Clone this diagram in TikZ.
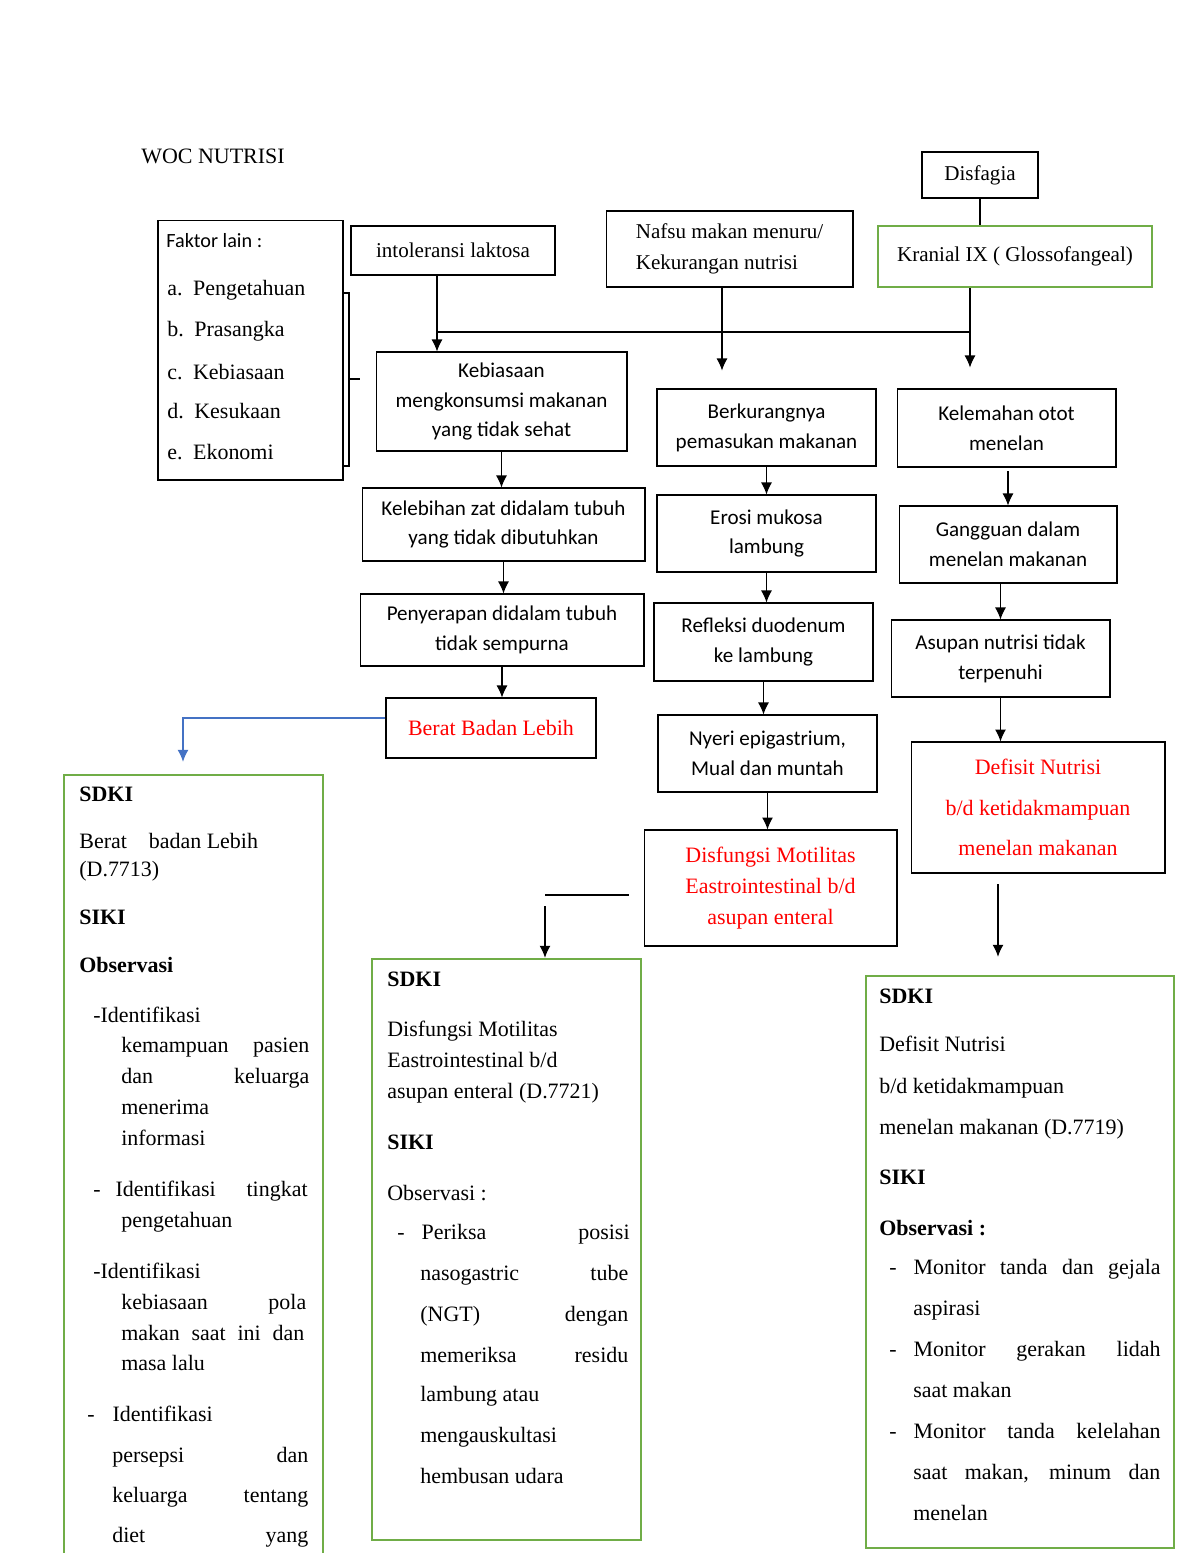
\documentclass[tikz,border=0pt]{standalone}
\usepackage{fontspec}
\setmainfont{Liberation Serif}
\newfontfamily\calfont{Carlito}
\usetikzlibrary{arrows.meta}
\definecolor{wgreen}{RGB}{112,173,71}
\definecolor{wblue}{RGB}{68,114,196}
\newcommand{\jus}[2]{\makebox[#1][s]{#2}}
\begin{document}
\begin{tikzpicture}[x=0.02cm,y=-0.02cm,
    box/.style={draw,line width=0.6pt,inner sep=2pt,align=center,
      font=\calfont\fontsize{12}{17}\selectfont},
    sbox/.style={box,font=\fontsize{12}{17.6}\selectfont},
    rbox/.style={box,text=red,font=\fontsize{12.5}{17.6}\selectfont},
    gbox/.style={draw=wgreen,line width=1.5pt},
    txt/.style={anchor=north west,inner sep=0pt,align=left,
      font=\fontsize{12.5}{17.6}\selectfont},
    arr/.style={line width=0.6pt,-{Latex[length=2.4mm,width=2.2mm]}}]
  \clip (0,0) rectangle (1200,1553);

  % top
  \node[anchor=west,inner sep=0pt,font=\fontsize{12.5}{15}\selectfont] (title) at (141,156) {WOC NUTRISI};
  \node[sbox,minimum width=2.32cm,minimum height=0.92cm] (disf) at (980,175) {Disfagia};
  \node[sbox,gbox,minimum width=5.48cm,minimum height=1.22cm] (kran) at (1015,256.5) {Kranial IX ( Glossofangeal)};
  \node[sbox,align=left,minimum width=4.94cm,minimum height=1.52cm] (nafsu) at (729.5,249) {Nafsu makan menuru/\\Kekurangan nutrisi};
  \node[sbox,minimum width=4.08cm,minimum height=0.98cm] (intol) at (453,250.5) {intoleransi laktosa};
  \node[box,minimum width=3.7cm,minimum height=5.2cm] (faktor) at (250.5,350) {};
  \node[txt,anchor=west,font=\calfont\fontsize{11.5}{15}\selectfont] (fjudul) at (166,241) {Faktor lain :};
  \node[txt,anchor=west] (fa) at (167,290) {a.\hspace{6pt}Pengetahuan};
  \node[txt,anchor=west] (fb) at (167,331) {b.\hspace{6pt}Prasangka};
  \node[txt,anchor=west] (fc) at (167,372) {c.\hspace{6pt}Kebiasaan};
  \node[txt,anchor=west] (fd) at (167,411) {d.\hspace{6pt}Kesukaan};
  \node[txt,anchor=west] (fe) at (167,452) {e.\hspace{6pt}Ekonomi};
  \draw[line width=0.6pt] (342,293) -- (349,293) -- (349,466) -- (342,466);
  \draw[line width=0.6pt] (349,379) -- (360,379);

  % column 1
  \node[box,minimum width=5.02cm,minimum height=1.98cm] (keb) at (501.5,401.5) {Kebiasaan\\mengkonsumsi makanan\\yang tidak sehat};
  \node[box,minimum width=5.66cm,minimum height=1.46cm] (keleb) at (503.5,524.5) {Kelebihan zat didalam tubuh\\yang tidak dibutuhkan};
  \node[box,minimum width=5.68cm,minimum height=1.44cm] (peny) at (502,630) {Penyerapan didalam tubuh\\tidak sempurna};
  \node[rbox,minimum width=4.2cm,minimum height=1.2cm] (bbl) at (491,728) {Berat Badan Lebih};

  % column 2
  \node[box,minimum width=4.38cm,minimum height=1.54cm] (berk) at (766.5,427.5) {Berkurangnya\\pemasukan makanan};
  \node[box,minimum width=4.38cm,minimum height=1.54cm] (erosi) at (766.5,533.5) {Erosi mukosa\\lambung};
  \node[box,minimum width=4.38cm,minimum height=1.56cm] (refl) at (763.5,642) {Refleksi duodenum\\ke lambung};
  \node[box,minimum width=4.38cm,minimum height=1.54cm] (nyeri) at (767.5,753.5) {Nyeri epigastrium,\\Mual dan muntah};
  \node[rbox,minimum width=5.06cm,minimum height=2.32cm] (disfu) at (770.5,888) {Disfungsi Motilitas\\Eastrointestinal b/d\\asupan enteral};

  % column 3
  \node[box,minimum width=4.38cm,minimum height=1.56cm] (kelem) at (1006.5,428) {Kelemahan otot\\menelan};
  \node[box,minimum width=4.36cm,minimum height=1.54cm] (gang) at (1008,544.5) {Gangguan dalam\\menelan makanan};
  \node[box,minimum width=4.38cm,minimum height=1.54cm] (asup) at (1000.5,658.5) {Asupan nutrisi tidak\\terpenuhi};
  \node[rbox,font=\fontsize{12.5}{23}\selectfont,minimum width=5.08cm,minimum height=2.62cm] (def) at (1038,807.5) {Defisit Nutrisi\\b/d ketidakmampuan\\menelan makanan};

  % SDKI boxes
  \node[gbox,minimum width=5.18cm,minimum height=16.5cm] (sdkil) at (193.5,1187.5) {};
  \node[gbox,minimum width=5.38cm,minimum height=11.62cm] (sdkim) at (506.5,1249.5) {};
  \node[gbox,minimum width=6.16cm,minimum height=11.44cm] (sdkir) at (1020,1262) {};

  \node[txt] (isil) at (79,787) {\textbf{SDKI}\\[9pt]
    Berat\quad badan Lebih\\[-1.7pt]
    (D.7713)\\[9.6pt]
    \textbf{SIKI}\\[9.6pt]
    \textbf{Observasi}\\[10.8pt]
    \hspace*{0.28cm}-Identifikasi\\
    \hspace*{0.84cm}\jus{3.76cm}{kemampuan pasien}\\
    \hspace*{0.84cm}\jus{3.76cm}{dan keluarga}\\
    \hspace*{0.84cm}menerima\\
    \hspace*{0.84cm}informasi\\[11.3pt]
    \hspace*{0.28cm}-\hspace*{0.3cm}\jus{3.84cm}{Identifikasi tingkat}\\
    \hspace*{0.84cm}pengetahuan\\[11.3pt]
    \hspace*{0.28cm}-Identifikasi\\
    \hspace*{0.84cm}\jus{3.7cm}{kebiasaan pola}\\
    \hspace*{0.84cm}\jus{3.66cm}{makan saat ini dan}\\
    \hspace*{0.84cm}masa lalu\\[11.3pt]
    \hspace*{0.16cm}-\hspace*{0.36cm}Identifikasi\\[5.7pt]
    \hspace*{0.66cm}\jus{3.92cm}{persepsi dan}\\[5.1pt]
    \hspace*{0.66cm}\jus{3.92cm}{keluarga tentang}\\[5.1pt]
    \hspace*{0.66cm}\jus{3.92cm}{diet yang}};

  \node[txt] (isim) at (387,972) {\textbf{SDKI}\\[10.8pt]
    Disfungsi Motilitas\\
    Eastrointestinal b/d\\
    asupan enteral (D.7721)\\[11.3pt]
    \textbf{SIKI}\\[11.3pt]
    Observasi :\\[5pt]
    \hspace*{0.2cm}-\hspace*{0.34cm}\jus{4.16cm}{Periksa posisi}\\[5.7pt]
    \hspace*{0.66cm}\jus{4.16cm}{nasogastric tube}\\[5.7pt]
    \hspace*{0.66cm}\jus{4.16cm}{(NGT) dengan}\\[5.7pt]
    \hspace*{0.66cm}\jus{4.16cm}{memeriksa residu}\\[4.5pt]
    \hspace*{0.66cm}lambung atau\\[5.7pt]
    \hspace*{0.66cm}mengauskultasi\\[5.7pt]
    \hspace*{0.66cm}hembusan udara};

  \node[txt] (isir) at (879,989) {\textbf{SDKI}\\[9.6pt]
    Defisit Nutrisi\\[6.2pt]
    b/d ketidakmampuan\\[5.7pt]
    menelan makanan (D.7719)\\[10.8pt]
    \textbf{SIKI}\\[11.3pt]
    \textbf{Observasi :}\\[5pt]
    \hspace*{0.2cm}-\hspace*{0.34cm}\jus{4.94cm}{Monitor tanda dan gejala}\\[5.7pt]
    \hspace*{0.68cm}aspirasi\\[5.7pt]
    \hspace*{0.2cm}-\hspace*{0.34cm}\jus{4.94cm}{Monitor gerakan lidah}\\[5.7pt]
    \hspace*{0.68cm}saat makan\\[5.7pt]
    \hspace*{0.2cm}-\hspace*{0.34cm}\jus{4.94cm}{Monitor tanda kelelahan}\\[5.7pt]
    \hspace*{0.68cm}\jus{4.94cm}{saat makan, minum dan}\\[5.7pt]
    \hspace*{0.68cm}menelan};

  % connectors
  \coordinate (jl) at (437,332);
  \coordinate (jm) at (722,332);
  \coordinate (jr) at (970,332);
  \draw[line width=0.6pt] (disf) -- (disf |- kran.north);
  \draw[line width=0.6pt] (jl) -- (jr);
  \draw[arr] (intol.south -| jl) -- (jl |- keb.north);
  \draw[arr,shorten >=0.36cm] (nafsu.south -| jm) -- (jm |- berk.north);
  \draw[arr,shorten >=0.42cm] (kran.south -| jr) -- (jr |- kelem.north);

  \draw[arr] (keb.south) -- (keb.south |- keleb.north);
  \draw[arr] (keleb.south) -- (keleb.south |- peny.north);
  \draw[arr] (peny.south) -- (peny.south |- bbl.north);

  \draw[arr] (berk.south) -- (berk.south |- erosi.north);
  \draw[arr] (erosi.south) -- (erosi.south |- refl.north);
  \draw[arr] (refl.south) -- (refl.south |- nyeri.north);
  \draw[arr] (nyeri.south) -- (nyeri.south |- disfu.north);

  \draw[arr,shorten <=2pt] (kelem.south -| gang.north) -- (gang.north);
  \draw[arr] (gang.south -| asup.north) -- (asup.north);
  \draw[arr] (asup.south) -- (asup.south |- def.north);

  \coordinate (bl) at (183,718);
  \draw[arr,wblue,shorten >=0.24cm] (bbl.west |- bl) -- (bl) -- (bl |- sdkil.north);
  \coordinate (d1) at (545,895);
  \coordinate (d2) at (629,895);
  \coordinate (d3) at (545,906);
  \draw[line width=0.6pt] (d1) -- (d2);
  \draw[arr] (d3) -- (d3 |- sdkim.north);
  \coordinate (dx) at (998,884);
  \draw[arr,shorten >=0.36cm] (dx) -- (dx |- sdkir.north);
\end{tikzpicture}
\end{document}
